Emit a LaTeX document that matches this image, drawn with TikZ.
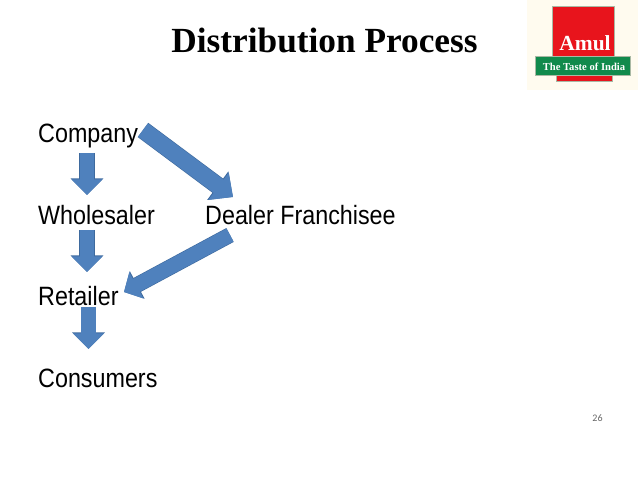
\documentclass[tikz,border=0pt]{standalone}
\usepackage{fontspec}
\setmainfont{Liberation Sans}
\newfontfamily\flowfont[FakeStretch=0.88]{Liberation Sans}
\newfontfamily\titlefont{Liberation Serif}
\newfontfamily\numberfont{Carlito}
\usetikzlibrary{arrows.meta}
\definecolor{arrow blue}{HTML}{4F81BD}
\definecolor{arrow edge}{HTML}{3E6A9E}
\definecolor{logo cream}{HTML}{FFFBEF}
\definecolor{logo red}{HTML}{E8141C}
\definecolor{logo green}{HTML}{118A4C}
\definecolor{logo edge}{HTML}{A9B9A4}
\tikzset{%
	flow label/.style={
		anchor=base west,
		inner sep=0pt,
		font=\flowfont\fontsize{26.5}{28}\selectfont
	},
	flow arrow/.style n args={3}{
		line width=#1pt,
		draw=arrow blue,
		-{Triangle[length=#2pt,width=#3pt]},
		preaction={draw=arrow edge,line width=#1pt+1.2pt,-{Triangle[length=#2pt+1pt,width=#3pt+1.5pt]}}
	},
	logo box/.style={
		draw=logo edge,
		line width=1pt
	},
}
\begin{document}
\begin{tikzpicture}[x=1pt,y=-1pt]
		\useasboundingbox (0,0) rectangle (638,478);
		% Logo
		\fill[logo cream] (527,0) rectangle (638,90);
		\draw[logo box,fill=logo red] (552,7) rectangle (614,58);
		\draw[logo box,fill=logo red] (556,76) rectangle (612,82);
		\draw[logo box,fill=logo green] (535,57) rectangle (630,76);
		\node[text=white,inner sep=0pt,font=\titlefont\bfseries\fontsize{21.5}{22}\selectfont] (logo-name) at (585,43) {Amul};
		\node[text=white,inner sep=0pt,font=\titlefont\bfseries\fontsize{10.6}{11}\selectfont] (logo-line) at (584,66.5) {The Taste of India};
		
		% Labels
		\node[inner sep=0pt,anchor=base,font=\titlefont\bfseries\fontsize{35.3}{38}\selectfont] (title) at (324.5,53) {Distribution Process};
		\node[flow label] (company) at (38,143) {Company};
		\node[flow label] (wholesaler) at (38,225) {Wholesaler};
		\node[flow label] (dealer) at (205,225) {Dealer Franchisee};
		\node[flow label] (retailer) at (38,306) {Retailer};
		\node[flow label] (consumers) at (38,388) {Consumers};
		\node[inner sep=0pt,text=black!60,font=\numberfont\fontsize{10}{12}\selectfont] (page) at (597.5,418) {26};
		
		% Arrow ends
		\coordinate (company-out) at (87,153);
		\coordinate (wholesaler-in) at (87,195);
		\coordinate (wholesaler-out) at (87,230);
		\coordinate (retailer-in) at (87,272);
		\coordinate (retailer-out) at (88.5,307);
		\coordinate (consumers-in) at (88.5,349);
		\coordinate (company-side) at (143,130);
		\coordinate (dealer-in) at (233,197);
		\coordinate (dealer-out) at (230,235);
		\coordinate (retailer-side) at (124,292);
		
		%Edges
		\foreach \a/\b/\w/\l/\h in {company-out/wholesaler-in/14.5/15.5/30,wholesaler-out/retailer-in/14.5/15.5/30,retailer-out/consumers-in/14.5/15.5/30,company-side/dealer-in/16.5/18/33,dealer-out/retailer-side/14.5/14/29}
		\draw[flow arrow={\w}{\l}{\h}] (\a) -- (\b);
\end{tikzpicture}
\end{document}
